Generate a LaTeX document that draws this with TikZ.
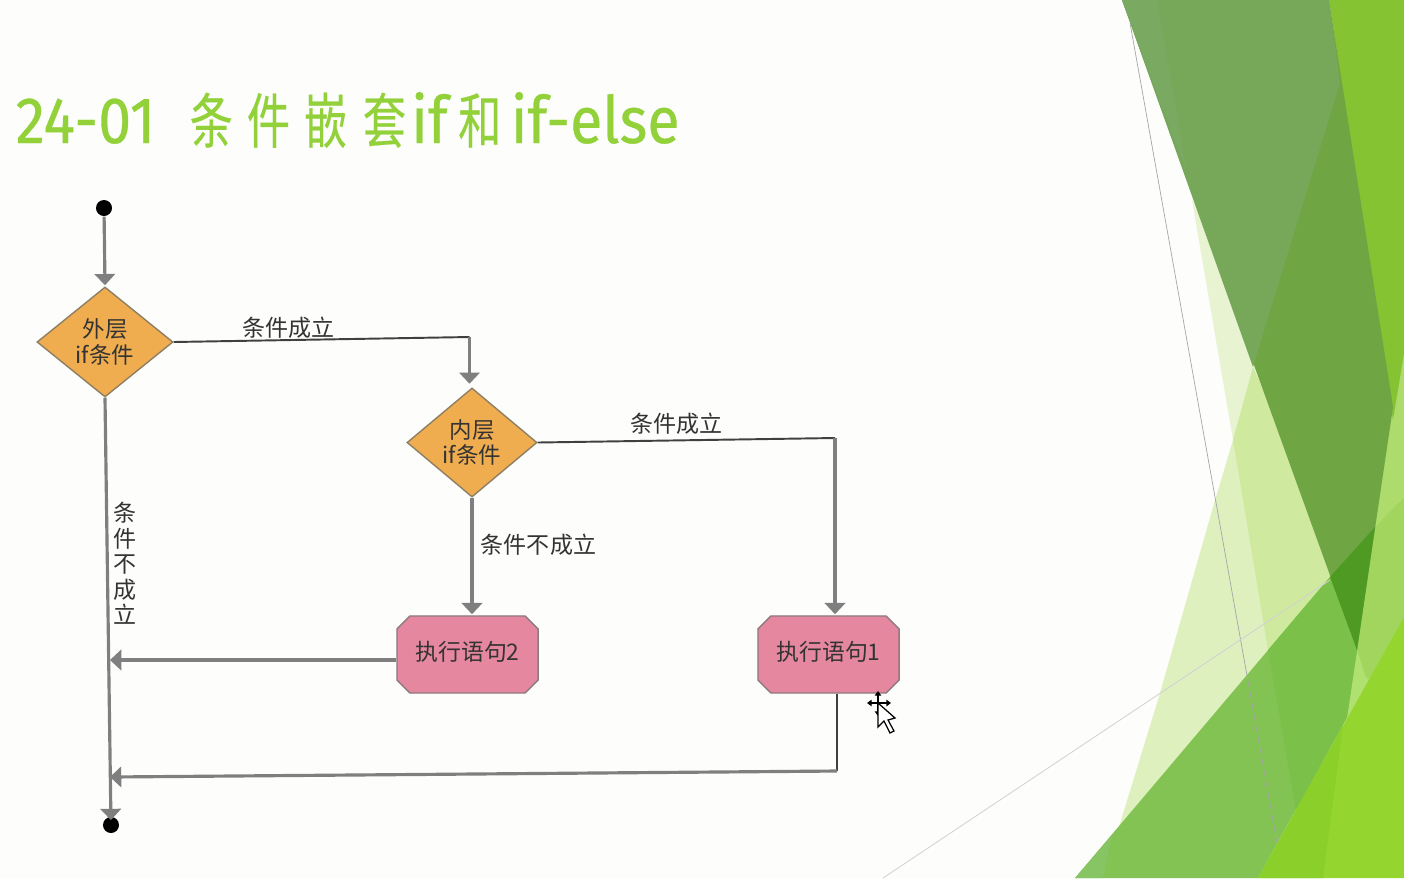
\documentclass[tikz,border=0pt]{standalone}
\usepackage{fontspec}
\usepackage{tikz}
\usetikzlibrary{shapes.geometric,shapes.misc,arrows.meta}
\newfontfamily\cjk{Noto Sans CJK SC}
\newfontfamily\titlecjk[FakeStretch=0.72,FakeBold=0.3]{Noto Sans CJK SC}
\newfontfamily\titlelat[FakeStretch=0.905,FakeBold=0.5]{Fira Sans}
\definecolor{titlegreen}{HTML}{92D13A}
\definecolor{arrowgray}{HTML}{7F7F7F}
\definecolor{linedark}{HTML}{404040}
\definecolor{labeltext}{HTML}{333333}
\definecolor{decision}{HTML}{EFAD50}
\definecolor{decisionedge}{HTML}{8F7F62}
\definecolor{action}{HTML}{E5879F}
\definecolor{actionedge}{HTML}{8C7A80}
\tikzset{
    flow/.style={draw=arrowgray, line width=0.9pt, shorten >=0.3pt, -{Triangle[length=3.2pt,width=5.8pt]}},
    plain/.style={draw=linedark, line width=0.55pt},
    ifnode/.style={diamond, draw=decisionedge, fill=decision, line width=0.4pt, inner sep=0pt, aspect=1.24, minimum width=1.36cm, minimum height=1.1cm, align=center, font=\cjk\fontsize{6.4}{7.2}\selectfont, text=labeltext},
    stmt/.style={chamfered rectangle, chamfered rectangle xsep=0.065cm, chamfered rectangle ysep=0.065cm, draw=actionedge, fill=action, line width=0.4pt, minimum width=1.41cm, minimum height=0.77cm, inner sep=0pt, text height=5.6pt, text depth=2pt, font=\cjk\fontsize{6.5}{7}\selectfont, text=labeltext},
    dot/.style={circle, fill=black, inner sep=0pt, minimum size=0.16cm},
    lbl/.style={font=\cjk\fontsize{6.55}{7.25}\selectfont, text=labeltext, align=center, inner sep=0pt},
}
\begin{document}
\begin{tikzpicture}[x=0.01cm,y=-0.01cm]
    \useasboundingbox (0,0) rectangle (1404,878);
    \fill[fill={rgb,255:red,253;green,254;blue,252}] (0,0) rectangle (1404,878);

    \fill[fill={rgb,255:red,223;green,240;blue,191}] (1253,373) -- (1213,507) -- (1160,693) -- (1118,830) -- (1345,600) -- cycle;
    \fill[fill={rgb,255:red,232;green,243;blue,210}] (1192,200) -- (1300,373) -- (1233,440) -- cycle;
    \fill[fill={rgb,255:red,207;green,233;blue,159}] (1253,367) -- (1233,440) -- (1268,650) -- (1345,577) -- cycle;
    \fill[fill={rgb,255:red,176;green,224;blue,112}] (1350,640) -- (1380,680) -- (1335,740) -- cycle;
    \fill[fill={rgb,255:red,173;green,219;blue,108}] (1404,353) -- (1370,400) -- (1365,540) -- (1404,497) -- cycle;
    \fill[fill={rgb,255:red,162;green,213;blue,94}] (1365,538) -- (1404,497) -- (1404,630) -- (1372,680) -- (1366,677) -- (1357,650) -- cycle;
    \fill[fill={rgb,255:red,130;green,195;blue,84}] (1075,878) -- (1330,577) -- (1357,650) -- (1347,717) -- (1258,878) -- cycle;
    \fill[fill={rgb,255:red,123;green,193;blue,73}] (1268,650) -- (1330,577) -- (1357,650) -- (1347,717) -- (1296,811) -- cycle;
    \fill[fill={rgb,255:red,134;green,196;blue,100}] (1075,878) -- (1112,835) -- (1103,878) -- cycle;
    \fill[fill={rgb,255:red,133;green,195;blue,50}] (1329,0) -- (1404,0) -- (1404,353) -- (1393,420) -- cycle;
    \fill[fill={rgb,255:red,111;green,165;blue,66}] (1122,0) -- (1329,0) -- (1393,407) -- (1357,650) -- cycle;
    \fill[fill={rgb,255:red,119;green,167;blue,88}] (1122,0) -- (1329,0) -- (1340,83) -- (1253,367) -- cycle;
    \fill[fill={rgb,255:red,122;green,169;blue,98}] (1122,0) -- (1157,0) -- (1187,173) -- cycle;
    \fill[fill={rgb,255:red,78;green,154;blue,34}] (1330,577) -- (1375,527) -- (1357,650) -- cycle;
    \fill[fill={rgb,255:red,149;green,213;blue,47}] (1258,878) -- (1404,617) -- (1404,878) -- cycle;
    \fill[fill={rgb,255:red,139;green,207;blue,42}] (1258,878) -- (1343,725) -- (1323,878) -- cycle;

    \draw[gray!70, line width=0.2pt] (1130,23) -- (1277,843);
    \draw[gray!35, line width=0.25pt] (883,878) -- (1330,580);

    \node[anchor=base west, inner sep=0pt, text=titlegreen, font=\titlelat\fontsize{18.6}{20}\selectfont] (title) at (15,143) {24-01\hspace{9.8pt}{\titlecjk\fontsize{17}{20}\selectfont 条\hspace{4pt}件\hspace{4pt}嵌\hspace{4.5pt}套}\hspace{1.5pt}if\hspace{3pt}{\titlecjk\fontsize{17}{20}\selectfont 和}\hspace{2.7pt}if-else};

    \node[dot] (start) at (104,208) {};
    \node[ifnode] (outer) at (105,342) {外层\\if条件};
    \node[ifnode, minimum width=1.3cm, minimum height=1.09cm] (inner) at (472,442.5) {内层\\if条件};
    \node[stmt] (stmt2) at (467.5,654.5) {执行语句2};
    \node[stmt] (stmt1) at (828.5,654.5) {执行语句1};
    \node[dot] (end) at (111,825) {};

    \coordinate (c1) at (469.5,337);
    \coordinate (c2) at (835,438);
    \coordinate (c3) at (837,771);
    \coordinate (m1) at (110,660);
    \coordinate (m2) at (110,777);

    \draw[flow] (start) -- (outer.north);
    \draw[plain] (outer.east) -- (c1);
    \draw[flow, shorten >=1pt] (c1) -- (c1 |- inner.north);
    \draw[plain] (inner.east) -- (c2);
    \draw[flow] (c2) -- (c2 |- stmt1.north);
    \draw[flow] (inner.south) -- (inner.south |- stmt2.north);
    \draw[flow, shorten >=1.4pt] (outer.south) -- (end.center);
    \draw[flow, shorten >=0pt] (stmt2.west |- m1) -- (m1);
    \draw[plain] (c3 |- stmt1.south) -- (c3);
    \draw[flow, shorten >=0pt] (c3) -- (m2);

    \node[lbl] (l1) at (288.5,328) {条件成立};
    \node[lbl] (l2) at (676.5,424) {条件成立};
    \node[lbl] (l3) at (538.5,545) {条件不成立};
    \node[lbl] (l4) at (125,563.5) {条\\件\\不\\成\\立};

    \draw[black, line width=0.35pt, {Triangle[length=1.3pt,width=1.8pt]}-{Triangle[length=1.3pt,width=1.8pt]}] (867,703) -- (891,703);
    \draw[black, line width=0.35pt, {Triangle[length=1.3pt,width=1.8pt]}-{Triangle[length=1.3pt,width=1.8pt]}] (878,691) -- (878,716);
    \draw[black, fill=white, line width=0.35pt] (878,703) -- (878,727) -- (884,721) -- (890,733) -- (894,731) -- (888,720) -- (895,718) -- cycle;
\end{tikzpicture}
\end{document}
